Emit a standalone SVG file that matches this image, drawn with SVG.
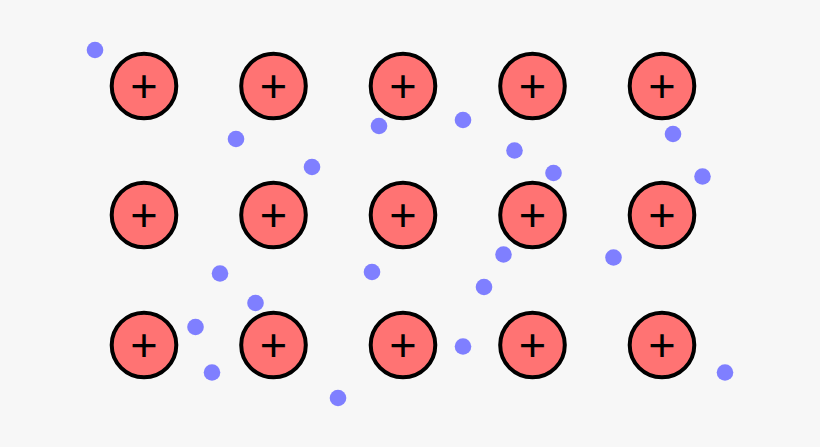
<svg xmlns="http://www.w3.org/2000/svg" width="820" height="447" viewBox="0 0 820 447">
<style>
.ion{fill:#ff7373;stroke:#000;stroke-width:4}
.plus{font-family:"Liberation Sans",Arial,sans-serif;font-size:47px;text-anchor:middle;fill:#000}
.e{fill:#7f7fff}
</style>
<defs>
<g id="ion"><circle class="ion" r="32.300"/><text class="plus" y="16">+</text></g>
</defs>
<rect width="820" height="447" fill="#f7f7f7"/>
<g id="ions">
<use id="ion-1-1" href="#ion" x="144" y="86"/>
<use id="ion-1-2" href="#ion" x="273.500" y="86"/>
<use id="ion-1-3" href="#ion" x="403" y="86"/>
<use id="ion-1-4" href="#ion" x="532.500" y="86"/>
<use id="ion-1-5" href="#ion" x="662" y="86"/>
<use id="ion-2-1" href="#ion" x="144" y="215"/>
<use id="ion-2-2" href="#ion" x="273.500" y="215"/>
<use id="ion-2-3" href="#ion" x="403" y="215"/>
<use id="ion-2-4" href="#ion" x="532.500" y="215"/>
<use id="ion-2-5" href="#ion" x="662" y="215"/>
<use id="ion-3-1" href="#ion" x="144" y="345"/>
<use id="ion-3-2" href="#ion" x="273.500" y="345"/>
<use id="ion-3-3" href="#ion" x="403" y="345"/>
<use id="ion-3-4" href="#ion" x="532.500" y="345"/>
<use id="ion-3-5" href="#ion" x="662" y="345"/>
</g>
<g id="electrons" class="e">
<circle cx="95" cy="50" r="8.300"/>
<circle cx="236" cy="139" r="8.300"/>
<circle cx="312" cy="167" r="8.300"/>
<circle cx="379" cy="126" r="8.300"/>
<circle cx="463" cy="120" r="8.300"/>
<circle cx="514.500" cy="150.500" r="8.300"/>
<circle cx="553.500" cy="173" r="8.300"/>
<circle cx="673" cy="134" r="8.300"/>
<circle cx="702.500" cy="176.500" r="8.300"/>
<circle cx="503.500" cy="254.500" r="8.300"/>
<circle cx="613.500" cy="257.500" r="8.300"/>
<circle cx="484" cy="287" r="8.300"/>
<circle cx="372" cy="272" r="8.300"/>
<circle cx="220" cy="273.500" r="8.300"/>
<circle cx="255.500" cy="303" r="8.300"/>
<circle cx="195.500" cy="327" r="8.300"/>
<circle cx="212" cy="372.500" r="8.300"/>
<circle cx="338" cy="398" r="8.300"/>
<circle cx="463" cy="346.500" r="8.300"/>
<circle cx="725" cy="372.500" r="8.300"/>
</g>
</svg>
